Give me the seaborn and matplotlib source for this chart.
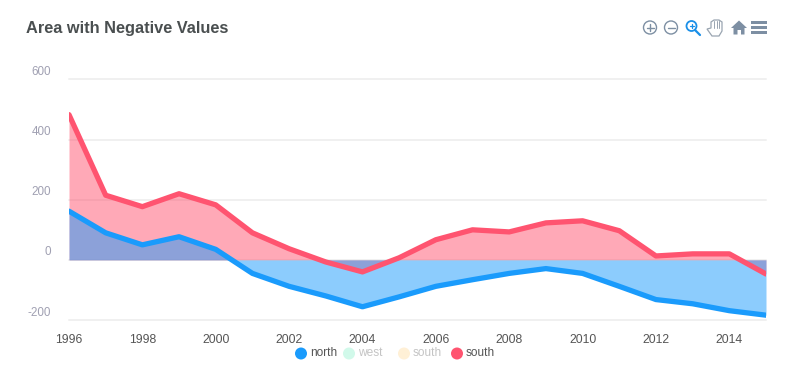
import matplotlib
matplotlib.use("Agg")
import matplotlib.pyplot as plt
import matplotlib.transforms as mtrans
from matplotlib.patches import Circle, Polygon, Rectangle
import seaborn as sns

# Values
years = [1996, 1997, 1998, 1999, 2000, 2001, 2002, 2003, 2004, 2005,
         2006, 2007, 2008, 2009, 2010, 2011, 2012, 2013, 2014, 2015]
north = [162, 90, 50, 77, 35, -45, -88, -120, -156, -123,
         -88, -66, -45, -29, -45, -88, -132, -146, -169, -184]
south = [483, 215, 177, 220, 183, 90, 37, -7, -40, 7,
         67, 100, 93, 123, 130, 97, 13, 20, 20, -47]
y_ticks = [-200, 0, 200, 400, 600]
x_ticks = [1996, 1998, 2000, 2002, 2004, 2006, 2008, 2010, 2012, 2014]
legend_names = ["north", "west", "south", "south"]
legend_colors = ["#1a9bfc", "#d1f9ea", "#fff0d6", "#ff5470"]
legend_text_colors = ["#555555", "#c4c4c4", "#c4c4c4", "#555555"]

BLUE = "#1a9bfc"
RED = "#ff5470"
W, H = 801, 388

sns.set_style("white")
plt.rcParams["font.family"] = ["Liberation Sans", "DejaVu Sans"]
plt.rcParams["axes.unicode_minus"] = False

fig = plt.figure(figsize=(W / 100, H / 100), dpi=100)
ax = fig.add_axes([69 / W, 1 - 320 / H, (766 - 69) / W, (320 - 79.5) / H])

# red first, the blue area sits on top of it
ax.fill_between(years, south, 0, color=RED, alpha=0.5, lw=0)
sns.lineplot(x=years, y=south, color=RED, lw=3.8, ax=ax, legend=False)
ax.fill_between(years, north, 0, color=BLUE, alpha=0.5, lw=0)
sns.lineplot(x=years, y=north, color=BLUE, lw=3.8, ax=ax, legend=False)

ax.set_xlim(1996, 2015)
ax.set_ylim(-200, 600)
ax.set_xticks(x_ticks)
ax.set_yticks(y_ticks)
ax.set_xlabel("")
ax.set_ylabel("")
ax.grid(axis="y", color="#f0f0f0", lw=1.4)
ax.set_axisbelow(True)
for gl in ax.get_ygridlines():
    gl.set_clip_on(False)
sns.despine(ax=ax, left=True, bottom=True)
ax.tick_params(axis="x", length=0, pad=10, labelsize=8.8, labelcolor="#555555")
ax.tick_params(axis="y", length=0, pad=13, labelsize=8.4, labelcolor="#a0a0b2")
shift = mtrans.ScaledTranslation(0, 9 / 100, fig.dpi_scale_trans)
for lab in ax.get_yticklabels():
    lab.set_transform(lab.get_transform() + shift)

# overlay in pixel coordinates for title, legend and toolbar
ov = fig.add_axes([0, 0, 1, 1], facecolor="none")
ov.set_xlim(0, W)
ov.set_ylim(H, 0)
ov.axis("off")

ov.text(26, 28, "Area with Negative Values", fontsize=11.8, fontweight="bold",
        color="#4a4f50", va="center", ha="left")

legend_x = [301, 349, 404, 457]
for x, name, c, tc in zip(legend_x, legend_names, legend_colors, legend_text_colors):
    ov.add_patch(Circle((x, 353.5), 6, color=c, lw=0))
    ov.text(x + 9, 353.5, name, fontsize=8.6, color=tc, va="center", ha="left")

# toolbar icons
GREY = "#7d8fa3"
for cx, sign in [(650, True), (671, False)]:
    ov.add_patch(Circle((cx, 27.5), 6.5, fill=False, ec=GREY, lw=1))
    ov.plot([cx - 3.5, cx + 3.5], [27.5, 27.5], color=GREY, lw=1)
    if sign:
        ov.plot([cx, cx], [24, 31], color=GREY, lw=1)

ov.add_patch(Circle((691.5, 26), 5, fill=False, ec="#1a8fe8", lw=1.3))
ov.plot([695, 700], [30, 35], color="#1a8fe8", lw=1.6)
ov.plot([689.5, 693.5], [26, 26], color="#1a8fe8", lw=0.9)
ov.plot([691.5, 691.5], [24, 28], color="#1a8fe8", lw=0.9)

# hand
ov.add_patch(Polygon([(707, 29), (711, 28), (711, 22), (714, 20), (719, 20), (722, 22),
                      (722, 31), (719, 36), (712, 36)],
                     closed=True, fc="white", ec="#9aa5b1", lw=0.9))
for x in [714, 716.5, 719]:
    ov.plot([x, x], [21, 28], color="#9aa5b1", lw=0.7)

# home
ov.add_patch(Polygon([(731, 28), (739, 20.5), (747, 28), (744.5, 28), (744.5, 34.5),
                      (741, 34.5), (741, 30), (737.5, 30), (737.5, 34.5), (733.5, 34.5),
                      (733.5, 28)], closed=True, fc=GREY, lw=0))

# menu
for y in [22.5, 27.5, 32.5]:
    ov.add_patch(Rectangle((751, y - 1.2), 16, 2.4, fc=GREY, lw=0))

fig.savefig("out.png", dpi=100)
